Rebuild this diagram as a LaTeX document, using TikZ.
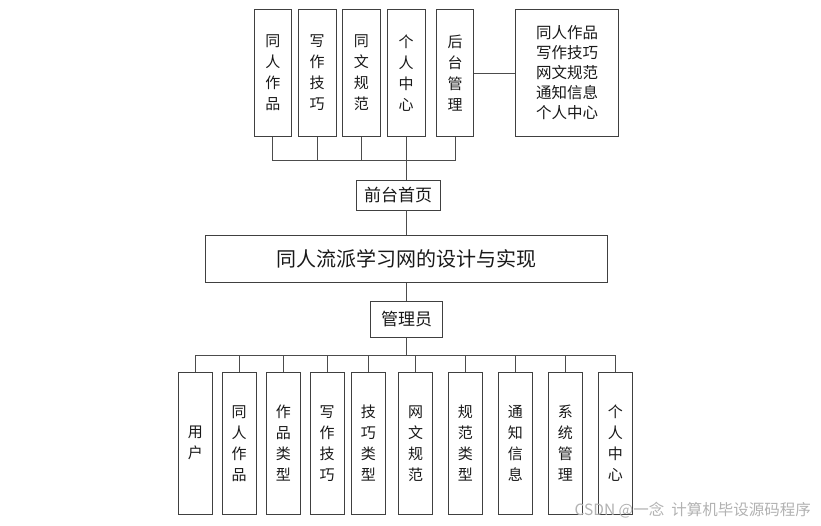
\documentclass[tikz,border=0pt]{standalone}
\usepackage{fontspec}
\newfontfamily\cjk{Noto Sans CJK SC}
\begin{document}
\begin{tikzpicture}[x=1pt,y=-1pt,
  box/.style={draw=black!75, line width=0.9pt, fill=white, inner sep=0pt, align=center, text=black!90},
  tbox/.style={box, minimum width=37.6pt, minimum height=127.4pt, font=\cjk\fontsize{15}{21}\selectfont},
  bbox/.style={box, minimum width=34pt, minimum height=142pt, font=\cjk\fontsize{15}{21}\selectfont},
  conn/.style={draw=black!70, line width=0.9pt}]
\useasboundingbox (0,0) rectangle (821,525);
% top row
\node[tbox] (t1) at (272.8,73) {同\\人\\作\\品};
\node[tbox] (t2) at (317.2,73) {写\\作\\技\\巧};
\node[tbox] (t3) at (361.3,73) {同\\文\\规\\范};
\node[tbox] (t4) at (406.2,73) {个\\人\\中\\心};
\node[tbox] (t5) at (455,73) {后\\台\\管\\理};
\node[box, minimum width=103.4pt, minimum height=127.4pt, font=\cjk\fontsize{15.5}{20}\selectfont] (tr) at (567,73) {同人作品\\写作技巧\\网文规范\\通知信息\\个人中心};
\draw[conn] (t5.east) -- (tr.west);
% top bus
\coordinate (busT) at (406.2,160.7);
\foreach \n in {t1,t2,t3,t4,t5} {\draw[conn] (\n.south) -- (busT -| \n.south);}
\draw[conn] (busT -| t1.south) -- (busT -| t5.south);
% front page
\node[box, minimum width=84pt, minimum height=30pt, font=\cjk\fontsize{17}{17}\selectfont] (front) at (398,195) {前台首页};
\draw[conn] (busT) -- (front.north -| busT);
% main
\node[box, minimum width=401.6pt, minimum height=47.3pt, font=\cjk\fontsize{20}{20}\selectfont] (main) at (406.5,258.7) {同人流派学习网的设计与实现};
\draw[conn] (front.south -| busT) -- (main.north -| busT);
% admin
\node[box, minimum width=71.3pt, minimum height=36.3pt, font=\cjk\fontsize{17}{17}\selectfont] (adm) at (406.5,319.2) {管理员};
\draw[conn] (main.south -| adm.north) -- (adm.north);
% bottom row
\node[bbox] (b1) at (195.3,443.3) {用\\户};
\node[bbox] (b2) at (239.2,443.3) {同\\人\\作\\品};
\node[bbox] (b3) at (283.3,443.3) {作\\品\\类\\型};
\node[bbox] (b4) at (327.2,443.3) {写\\作\\技\\巧};
\node[bbox] (b5) at (368.3,443.3) {技\\巧\\类\\型};
\node[bbox] (b6) at (415.5,443.3) {网\\文\\规\\范};
\node[bbox] (b7) at (465.3,443.3) {规\\范\\类\\型};
\node[bbox] (b8) at (515.3,443.3) {通\\知\\信\\息};
\node[bbox] (b9) at (565.3,443.3) {系\\统\\管\\理};
\node[bbox] (b10) at (615.3,443.3) {个\\人\\中\\心};
\coordinate (busB) at (406.5,355);
\draw[conn] (adm.south) -- (busB);
\draw[conn] (busB -| b1.north) -- (busB -| b10.north);
\foreach \n in {b1,b2,b3,b4,b5,b6,b7,b8,b9,b10} {\draw[conn] (busB -| \n.north) -- (\n.north);}
% watermark
\node[font=\cjk\fontsize{15.5}{15.5}\selectfont, text=black!30, anchor=east, inner sep=0pt] (wm) at (811,510) {CSDN @一念\ \ 计算机毕设源码程序};
\end{tikzpicture}
\end{document}
